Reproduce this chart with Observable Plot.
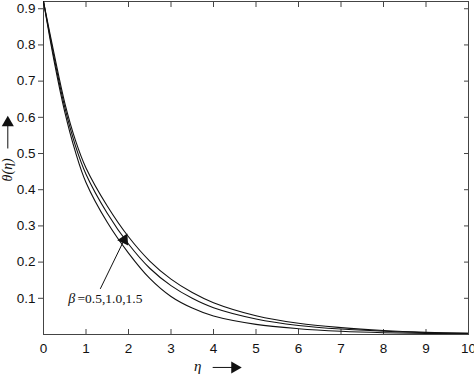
<!DOCTYPE html>
<html>
<head>
<meta charset="utf-8">
<script src="https://cdn.jsdelivr.net/npm/d3@7"></script>
<script src="https://cdn.jsdelivr.net/npm/@observablehq/plot@0.6"></script>
<style>
html,body{margin:0;padding:0;background:#fff;}
</style>
</head>
<body>
<div id="chart"></div>
<script>
// η grid and θ(η) for β = 0.5, 1.0, 1.5
const eta = [0,0.25,0.5,0.75,1,1.5,2,2.5,3,3.5,4,5,6,7,8,9,10];
const thetaB05 = [0.92,0.755,0.615,0.505,0.42,0.31,0.225,0.155,0.105,0.073,0.051,0.028,0.016,0.009,0.005,0.003,0.002];
const thetaB10 = [0.92,0.765,0.628,0.522,0.443,0.335,0.25,0.183,0.135,0.10,0.074,0.043,0.025,0.015,0.009,0.005,0.003];
const thetaB15 = [0.92,0.775,0.64,0.537,0.46,0.355,0.27,0.203,0.153,0.116,0.088,0.052,0.031,0.019,0.011,0.006,0.003];
const betas = ["0.5","1.0","1.5"];
const xTicks = [0,1,2,3,4,5,6,7,8,9,10];
const yTicks = [0.1,0.2,0.3,0.4,0.5,0.6,0.7,0.8,0.9];

// annotation (data coordinates)
const annotArrow = [{x:1.34,y:0.127},{x:1.9,y:0.262}];
const annotHead = [{x:1.9,y:0.262}];
const annotText = "=0.5,1.0,1.5";
const yLabelArrow = [{x:-0.84,y:0.515},{x:-0.84,y:0.59}];
const yLabelHead = [{x:-0.84,y:0.585}];
const xLabelArrow = [{x:3.99,y:-0.091},{x:4.52,y:-0.091}];
const xLabelHead = [{x:4.5,y:-0.091}];

const series = [thetaB05, thetaB10, thetaB15];
const rows = [];
series.forEach((s, i) => s.forEach((v, j) => rows.push({eta: eta[j], theta: v, beta: betas[i]})));

const serif = "Liberation Serif, Times New Roman, serif";

const chart = Plot.plot({
  width: 474,
  height: 376,
  marginLeft: 43,
  marginRight: 6,
  marginTop: 1,
  marginBottom: 42,
  style: {fontFamily: "Liberation Sans, Arial, sans-serif", fontSize: "13.5px", color: "#111", background: "#fff"},
  x: {domain: [0, 10]},
  y: {domain: [0, 0.92]},
  marks: [
    Plot.frame({stroke: "#444", strokeWidth: 1}),
    Plot.axisX({ticks: xTicks, tickSize: 0, tickPadding: 9, label: null, fontSize: 13.5}),
    Plot.axisX({ticks: xTicks, tickSize: -5, tickFormat: () => "", label: null, stroke: "#444"}),
    Plot.axisX({ticks: xTicks, anchor: "top", tickSize: -5, tickFormat: () => "", label: null, stroke: "#444"}),
    Plot.axisY({ticks: yTicks, tickSize: 5, tickPadding: 3, label: null, fontSize: 13.5, stroke: "#444"}),
    Plot.axisY({ticks: yTicks, anchor: "right", tickSize: -5, tickFormat: () => "", label: null, stroke: "#444"}),
    Plot.line(rows, {x: "eta", y: "theta", z: "beta", stroke: "#111", strokeWidth: 1.1, curve: "catmull-rom", clip: true}),
    // β annotation
    Plot.line(annotArrow, {x: "x", y: "y", stroke: "#111", strokeWidth: 1}),
    Plot.dot(annotHead, {x: "x", y: "y", symbol: "triangle", r: 4.5, fill: "#111", stroke: null, rotate: 26}),
    Plot.text([0], {x: 0.58, y: 0.0995, text: () => "β", textAnchor: "start", fontFamily: serif, fontStyle: "italic", fontSize: 14}),
    Plot.text([0], {x: 0.80, y: 0.0995, text: () => annotText, textAnchor: "start", fontFamily: serif, fontSize: 13.5}),
    // y label
    Plot.text([0], {x: -0.84, y: 0.455, text: () => "θ(η)", rotate: -90, fontFamily: serif, fontStyle: "italic", fontSize: 14}),
    Plot.line(yLabelArrow, {x: "x", y: "y", stroke: "#111", strokeWidth: 1}),
    Plot.dot(yLabelHead, {x: "x", y: "y", symbol: "triangle", r: 4.5, fill: "#111", stroke: null}),
    // x label
    Plot.text([0], {x: 3.63, y: -0.088, text: () => "η", fontFamily: serif, fontStyle: "italic", fontSize: 15}),
    Plot.line(xLabelArrow, {x: "x", y: "y", stroke: "#111", strokeWidth: 1}),
    Plot.dot(xLabelHead, {x: "x", y: "y", symbol: "triangle", r: 4.5, fill: "#111", stroke: null, rotate: 90})
  ]
});
document.getElementById("chart").appendChild(chart);
</script>
</body>
</html>
